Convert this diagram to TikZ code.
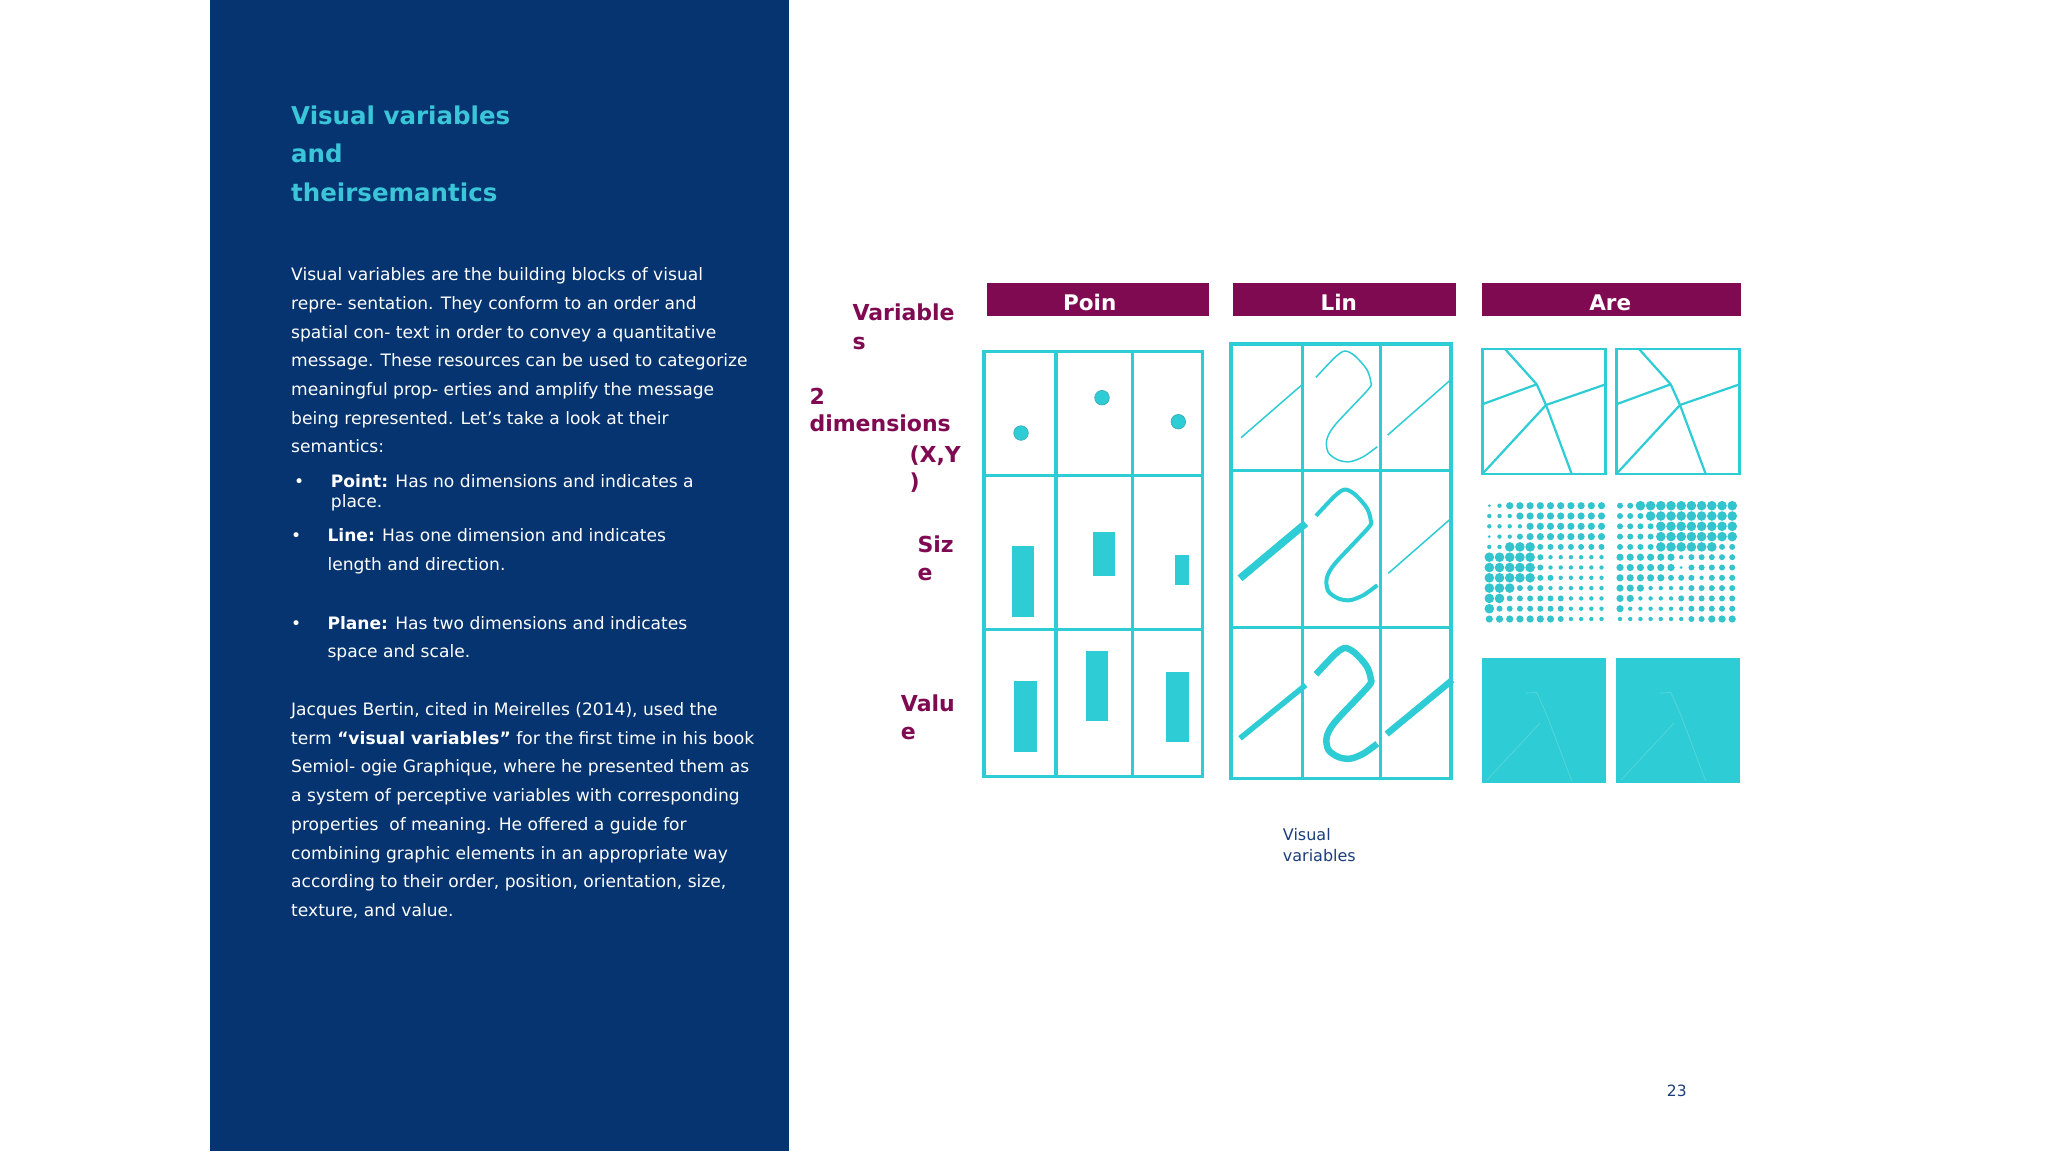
\documentclass[tikz,border=0pt]{standalone}
\usepackage{fontspec}
\setmainfont{DejaVu Sans}
\definecolor{navy}{RGB}{5,52,112}
\definecolor{titlecyan}{RGB}{58,198,216}
\definecolor{plum}{RGB}{128,10,82}
\definecolor{cyanc}{RGB}{46,204,212}
\definecolor{dotc}{RGB}{52,196,206}
\definecolor{dotedge}{RGB}{60,170,180}
\definecolor{capblue}{RGB}{28,62,122}
\newcommand\setdotrad[1]{\ifcase#1\relax\def\dotr{0}\or\def\dotr{1.5}\or\def\dotr{2.2}\or\def\dotr{3.0}\or\def\dotr{3.6}\or\def\dotr{4.8}\fi}
\begin{document}
\begin{tikzpicture}[x=1pt,y=-1pt,
  body/.style={anchor=base west,inner sep=0pt,text=white,font=\fontsize{17.1}{20}\selectfont},
  ttl/.style={anchor=base west,inner sep=0pt,text=titlecyan,font=\fontsize{24.5}{28}\selectfont\bfseries},
  lab/.style={anchor=base west,inner sep=0pt,text=plum,font=\fontsize{22}{26}\selectfont\bfseries},
  head/.style={anchor=base,inner sep=0pt,text=white,font=\fontsize{21.5}{26}\selectfont\bfseries},
  hbar/.style={fill=plum},
  gridline/.style={draw=cyanc,line width=3.5pt},
  markbox/.style={fill=cyanc},
  pdot/.style={fill=cyanc,draw=dotedge,line width=0.6pt},
  ln/.style={draw=cyanc,line cap=butt},
  areabox/.style={draw=cyanc,line width=2.5pt},
  areal/.style={draw=cyanc,line width=2.2pt},
  faint/.style={draw=white,draw opacity=0.18,line width=0.8pt},
  capt/.style={anchor=base west,inner sep=0pt,text=capblue,font=\fontsize{16}{19}\selectfont}
]
\useasboundingbox (0,0) rectangle (2048,1152);
\fill[white] (0,0) rectangle (2048,1152);
\fill[navy] (209.5,0) rectangle (789,1151);

% ---------- left panel text ----------
\node[ttl] (t1) at (291,124.3) {Visual variables};
\node[ttl] (t2) at (291,162.7) {and};
\node[ttl] (t3) at (291,201) {theirsemantics};

\node[body] (b1) at (291,280.7) {Visual variables are the building blocks of visual};
\node[body] (b2) at (291,309.3) {repre- sentation. They conform to an order and};
\node[body] (b3) at (291,338) {spatial con- text in order to convey a quantitative};
\node[body] (b4) at (291,366.7) {message. These resources can be used to categorize};
\node[body] (b5) at (291,395.3) {meaningful prop- erties and amplify the message};
\node[body] (b6) at (291,424) {being represented. Let’s take a look at their};
\node[body] (b7) at (291,452.7) {semantics:};

\node[body] (u1) at (294,487.3) {•};
\node[body] (p1) at (330.7,487.3) {\textbf{Point:} Has no dimensions and indicates a};
\node[body] (p2) at (330.7,507.3) {place.};
\node[body] (u2) at (291,541.7) {•};
\node[body] (l1) at (327.3,541.7) {\textbf{Line:} Has one dimension and indicates};
\node[body] (l2) at (327.3,570) {length and direction.};
\node[body] (u3) at (291,629) {•};
\node[body] (q1) at (327.3,629) {\textbf{Plane:} Has two dimensions and indicates};
\node[body] (q2) at (327.3,657.3) {space and scale.};

\node[body] (j1) at (291,715) {Jacques Bertin, cited in Meirelles (2014), used the};
\node[body] (j2) at (291,744) {term \textbf{“visual variables”} for the first time in his book};
\node[body] (j3) at (291,772.7) {Semiol- ogie Graphique, where he presented them as};
\node[body] (j4) at (291,801.3) {a system of perceptive variables with corresponding};
\node[body] (j5) at (291,830) {properties\ \ of meaning. He offered a guide for};
\node[body] (j6) at (291,859) {combining graphic elements in an appropriate way};
\node[body] (j7) at (291,887.7) {according to their order, position, orientation, size,};
\node[body] (j8) at (291,916.3) {texture, and value.};

% ---------- row labels ----------
\node[lab] (v1) at (852.3,320.7) {Variable};
\node[lab] (v2) at (852.3,349) {s};
\node[lab] (d1) at (809.3,404) {2};
\node[lab] (d2) at (809.3,431.3) {dimensions};
\node[lab] (d3) at (909.3,462.7) {(X,Y};
\node[lab] (d4) at (909.3,489) {)};
\node[lab] (s1) at (917.3,552.3) {Siz};
\node[lab] (s2) at (917.3,580) {e};
\node[lab] (w1) at (900.7,711.7) {Valu};
\node[lab] (w2) at (900.7,739.3) {e};

% ---------- header bars ----------
\fill[hbar] (987.3,283.3) rectangle (1209.3,315.7);
\fill[hbar] (1233.3,283.3) rectangle (1455.7,315.7);
\fill[hbar] (1481.7,283.3) rectangle (1740.7,315.7);
\node[head] (h1) at (1089.7,310.7) {Poin};
\node[head] (h2) at (1338.8,310.7) {Lin};
\node[head] (h3) at (1610.2,310.7) {Are};

% ---------- Point grid ----------
\draw[gridline] (984,351.7) rectangle (1202.3,776.7);
\draw[gridline] (1056,351.7) -- (1056,776.7) (1132.7,351.7) -- (1132.7,776.7)
            (984,475.7) -- (1202.3,475.7) (984,629.3) -- (1202.3,629.3);
\filldraw[pdot] (1021,433) circle[radius=7.3];
\filldraw[pdot] (1102,397.7) circle[radius=7.3];
\filldraw[pdot] (1178.3,421.7) circle[radius=7.3];
\fill[markbox] (1012,546.3) rectangle (1034.3,616.7);
\fill[markbox] (1092.7,531.7) rectangle (1115,575.7);
\fill[markbox] (1174.7,554.7) rectangle (1188.7,585);
\fill[markbox] (1014.3,681.3) rectangle (1036.7,752);
\fill[markbox] (1085.7,650.7) rectangle (1108,721);
\fill[markbox] (1166,672) rectangle (1188.7,742.3);

% ---------- Line grid ----------
\draw[gridline] (1231,344) rectangle (1451,778.3);
\draw[gridline] (1302.7,344) -- (1302.7,778.3) (1380.3,344) -- (1380.3,778.3)
            (1231,470.7) -- (1451,470.7) (1231,627.3) -- (1451,627.3);
\draw[ln,line width=1.5pt] (1241,437.7) -- (1301.7,385);
\draw[ln,line width=1.5pt] (1387.7,435) -- (1449.3,381);
\draw[ln,line width=7.5pt] (1240,578.3) -- (1305.7,523.3);
\draw[ln,line width=1.5pt] (1388.3,573.3) -- (1449.3,520);
\draw[ln,line width=5.5pt] (1240,738.3) -- (1305.7,685);
\draw[ln,line width=6.5pt] (1386.7,734) -- (1452.3,680);
\foreach \dy/\w in {0/1.5,138.5/4,297/6.5}{
  \begin{scope}[shift={(0,\dy)}]
    \draw[ln,line width=\w pt,line join=round] plot[smooth,tension=0.5] coordinates {
      (1316,377.3) (1335,357.3) (1345,351) (1355,356) (1366.7,369.3) (1370.7,381.7)
      (1368.3,389.3) (1335,425) (1326.7,440) (1328.3,452.7) (1338.3,460)
      (1350,461.7) (1363.3,456.7) (1377.3,446.7)};
  \end{scope}
}

% ---------- Area column ----------
\foreach \dx in {0,134}{
  \begin{scope}[shift={(\dx,0)}]
    \draw[areabox] (1482.3,349) rectangle (1605.7,474);
    \draw[areal] (1505,349) -- (1536.7,384.3) -- (1546,405) -- (1571.7,474);
    \draw[areal] (1482.3,404.3) -- (1536.7,384.3);
    \draw[areal] (1546,405) -- (1605.7,384.3);
    \draw[areal] (1546,405) -- (1482.3,474);
    \fill[cyanc] (1482.3,657.7) rectangle (1605.7,782.7);
    \draw[faint] (1526,693.3) -- (1536.7,692.3) -- (1546,713) -- (1571.7,781);
    \draw[faint] (1540,723) -- (1487,780);
  \end{scope}
}
% dot textures (left)
\foreach \row [count=\r] in {{1,2,4,4,4,4,4,4,4,4,4,4},{2,2,2,4,4,4,4,4,4,4,4,4},{2,2,2,2,4,4,4,4,4,4,4,4},{1,2,2,3,4,4,4,4,4,4,4,4},{2,2,5,5,5,3,3,3,3,3,3,3},{5,5,5,5,5,3,2,2,2,2,2,2},{5,5,5,5,5,3,2,2,2,2,2,2},{5,5,5,5,5,3,3,2,2,2,2,2},{5,5,5,3,3,3,2,2,2,2,2,2},{5,5,3,3,3,3,3,3,2,2,2,2},{5,3,3,3,3,3,3,3,2,2,2,2},{4,4,4,4,4,4,4,3,2,2,2,2}}{
  \foreach \s [count=\c] in \row {
    \setdotrad{\s}
    \fill[dotc] ({1489.3+(\c-1)*10.2},{505.7+(\r-1)*10.3}) circle[radius=\dotr];
  }
}
% dot textures (right)
\foreach \row [count=\r] in {{3,3,5,5,5,5,5,5,5,5,5,5},{3,3,3,5,5,5,5,5,5,5,5,5},{3,3,3,3,5,5,5,5,5,5,5,5},{3,3,3,3,5,5,5,5,5,5,5,5},{3,3,3,3,5,5,5,5,5,5,3,3},{4,4,4,4,4,4,2,3,3,3,3,3},{4,4,4,4,4,4,1,3,3,3,3,3},{4,4,4,4,4,3,3,3,2,3,3,3},{4,4,4,2,2,2,2,3,3,3,3,3},{4,4,2,2,2,2,3,3,3,3,3,3},{4,2,2,2,2,2,2,3,3,3,3,3},{2,2,2,2,2,2,2,3,3,4,4,4}}{
  \foreach \s [count=\c] in \row {
    \setdotrad{\s}
    \fill[dotc] ({1620+(\c-1)*10.2},{505.7+(\r-1)*10.3}) circle[radius=\dotr];
  }
}

% ---------- captions ----------
\node[capt] (c1) at (1282.7,840.7) {Visual};
\node[capt] (c2) at (1282.7,861.7) {variables};
\node[capt,font=\fontsize{15.5}{18}\selectfont] (pg) at (1666.7,1096) {23};
\end{tikzpicture}
\end{document}
